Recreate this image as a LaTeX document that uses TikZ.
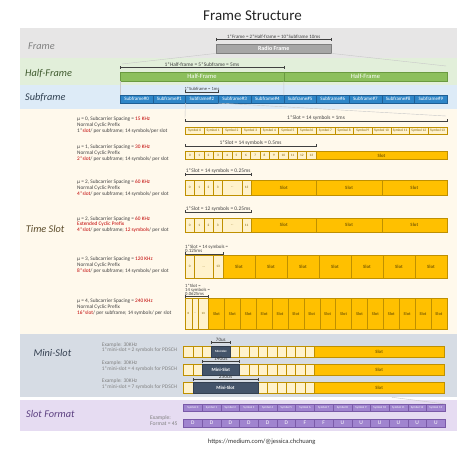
\documentclass[tikz,border=0pt]{standalone}
\usepackage{fontspec}
\setmainfont{Carlito}
\usetikzlibrary{arrows.meta,calc}
\definecolor{bgFrame}{HTML}{E7E6E6}
\definecolor{bgHalf}{HTML}{E2EFDA}
\definecolor{bgSub}{HTML}{DDEBF7}
\definecolor{bgSlot}{HTML}{FFF9EC}
\definecolor{bgMini}{HTML}{D6DCE4}
\definecolor{bgFmt}{HTML}{E6DCF2}
\definecolor{rfFill}{HTML}{A6A6A6}
\definecolor{rfLine}{HTML}{7F7F7F}
\definecolor{hfFill}{HTML}{8CBF5C}
\definecolor{hfLine}{HTML}{6A9A40}
\definecolor{sfFill}{HTML}{2E86C8}
\definecolor{sfLine}{HTML}{1F5F95}
\definecolor{symFill}{HTML}{FFF2CC}
\definecolor{symLine}{HTML}{BF9000}
\definecolor{slotFill}{HTML}{FFC000}
\definecolor{slotText}{HTML}{7F6000}
\definecolor{miniFill}{HTML}{44546A}
\definecolor{miniLine}{HTML}{333F50}
\definecolor{fmtFill}{HTML}{A084CF}
\definecolor{fmtLine}{HTML}{7A5AA8}
\definecolor{redtxt}{HTML}{C00000}
\definecolor{txt}{HTML}{404040}
\definecolor{funnelc}{HTML}{C8C8C8}
\definecolor{labFrame}{HTML}{808080}
\definecolor{labHalf}{HTML}{3F5A2E}
\definecolor{labSub}{HTML}{2F3F50}
\definecolor{labSlot}{HTML}{5A4A28}
\definecolor{labMini}{HTML}{333F50}
\definecolor{labFmt}{HTML}{5B3F80}
\newcommand\fsz[2]{\fontsize{#1}{#2}\selectfont}
\newcommand\dimbr[4]{\draw[dimline] ([yshift=#3]#1) -- ([yshift=#3]#2) node[dimtext, midway, above] {#4};}
\begin{document}
\begin{tikzpicture}[x=1pt,y=-1pt,
  bandbox/.style={draw=none, inner sep=0, anchor=north west},
  blabel/.style={anchor=west, inner sep=0, font=\fsz{10.3}{12}\itshape},
  cellbox/.style={draw, inner sep=0, anchor=north west, line width=0.4pt},
  symbox/.style={cellbox, draw=symLine, fill=symFill, text=slotText},
  slotbox/.style={cellbox, draw=symLine, fill=slotFill, text=slotText, font=\fsz{4.8}{5}\bfseries},
  minibox/.style={cellbox, draw=miniLine, fill=miniFill, text=white},
  fmtbox/.style={cellbox, draw=fmtLine, fill=fmtFill, text=white},
  desctext/.style={anchor=west, align=left, inner sep=0, font=\fsz{5.3}{5.9}, text=txt},
  minitext/.style={anchor=west, align=left, inner sep=0, font=\fsz{5.4}{5.8}, text=gray},
  dimline/.style={draw=txt, line width=0.35pt, {Bar[width=3pt]}-{Bar[width=3pt]}},
  dimtext/.style={font=\fsz{5.4}{5.6}, text=txt, inner sep=0.5pt},
  funnel/.style={draw=funnelc, line width=0.4pt}]
\useasboundingbox (0,0) rectangle (474,452);
\fill[white] (0,0) rectangle (474,452);

\node[font=\fsz{15}{18}, text=black!85] (title) at (252.5,16) {Frame Structure};

% bands
\node[bandbox, fill=bgFrame, minimum width=437pt, minimum height=30pt] (bFrame) at (20,28) {};
\node[bandbox, fill=bgHalf, minimum width=437pt, minimum height=27pt] (bHalf) at (20,58) {};
\node[bandbox, fill=bgSub, minimum width=437pt, minimum height=24pt] (bSub) at (20,85) {};
\node[bandbox, fill=bgSlot, minimum width=437pt, minimum height=225pt] (bSlot) at (20,109) {};
\node[bandbox, fill=bgMini, minimum width=437pt, minimum height=63pt] (bMini) at (20,334) {};
\node[bandbox, fill=bgFmt, minimum width=437pt, minimum height=31pt] (bFmt) at (20,400) {};

% band labels
\node[blabel, text=labFrame] (lFrame) at (28,46) {Frame};
\node[blabel, text=labHalf] (lHalf) at (25,74) {Half-Frame};
\node[blabel, text=labSub] (lSub) at (25,97.5) {Subframe};
\node[blabel, text=labSlot] (lSlot) at (25.7,228.5) {Time Slot};
\node[blabel, text=labMini] (lMini) at (33.3,352.5) {Mini-Slot};
\node[blabel, text=labFmt] (lFmt) at (26,414) {Slot Format};

% radio frame
\node[cellbox, draw=rfLine, fill=rfFill, text=white, font=\fsz{6}{6}\bfseries, minimum width=115pt, minimum height=9pt] (rf) at (216,44) {Radio Frame};
\dimbr{rf.north west}{rf.north east}{4.5pt}{\fsz{5}{5}1*Frame = 2*Half-frame = 10*Subframe 10ms}

% half frames
\node[cellbox, draw=hfLine, fill=hfFill, text=white, font=\fsz{6.5}{6.5}, minimum width=163.5pt, minimum height=9.3pt] (hf1) at (120,71.7) {Half-Frame};
\node[cellbox, draw=hfLine, fill=hfFill, text=white, font=\fsz{6.5}{6.5}, minimum width=163.5pt, minimum height=9.3pt] (hf2) at (283.5,71.7) {Half-Frame};
\dimbr{hf1.north west}{hf1.north east}{4.4pt}{1*Half-frame = 5*Subframe = 5ms}

% subframes
\foreach \i in {0,...,9}
  \node[cellbox, draw=sfLine, fill=sfFill, text=white, font=\fsz{5}{5}, minimum width=32.7pt, minimum height=7.4pt] (sf\i) at ({120+\i*32.7},95.3) {Subframe\#\i};
\dimbr{sf2.north west}{sf2.north east}{3.6pt}{\fsz{4.6}{4.6}1*Subframe = 1ms}

% funnel lines
\coordinate (fA) at (122,64);
\coordinate (fB) at (446,66);
\coordinate (fC) at (185,118);
\coordinate (fD) at (446,116);
\draw[funnel] (rf.south west) -- (fA);
\draw[funnel] (rf.south east) -- (fB);
\draw[funnel] (hf1.south west) -- (sf0.north west);
\draw[funnel] (hf1.south east) -- (sf4.north east);
\draw[funnel] (sf2.south west) -- (fC);
\draw[funnel] (sf2.south east) -- (fD);

% row 1
\node[desctext] (d1) at (77,125) {μ = 0, Subcarrier Spacing = \textcolor{redtxt}{15 KHz}\\Normal Cyclic Prefix\\1*\textcolor{redtxt}{slot}/ per subframe; 14 symbols/per slot};
\foreach \i in {0,...,13}
  \node[symbox, font=\fsz{3.5}{3.5}, minimum width=18.69pt, minimum height=7.6pt] (a\i) at ({185+\i*18.69},126.7) {Symbol \i};
\dimbr{a0.north west}{a13.north east}{6pt}{1*Slot = 14 symbols = 1ms}

% row 2
\node[desctext] (d2) at (77,153.3) {μ = 1, Subcarrier Spacing = \textcolor{redtxt}{30 KHz}\\Normal Cyclic Prefix\\\textcolor{redtxt}{2*slot}/ per subframe; 14 symbols/ per slot};
\foreach \i in {0,...,13}
  \node[symbox, font=\fsz{3.4}{3.5}, minimum width=9.34pt, minimum height=8.3pt] (b\i) at ({185+\i*9.34},151) {\i};
\node[slotbox, minimum width=131pt, minimum height=8.3pt] (bS) at (315.76,151) {Slot};
\dimbr{b0.north west}{b13.north east}{5.3pt}{1*Slot = 14 symbols = 0.5ms}

% row 3
\node[desctext] (d3) at (77,188) {μ = 2, Subcarrier Spacing = \textcolor{redtxt}{60 KHz}\\Normal Cyclic Prefix\\\textcolor{redtxt}{4*slot}/ per subframe; 14 symbols/ per slot};
\foreach \i in {0,...,3}
  \node[symbox, font=\fsz{3.4}{3.5}, minimum width=9.3pt, minimum height=15pt] (c\i) at ({185+\i*9.3},180) {\i};
\node[symbox, font=\fsz{3.4}{3.5}, minimum width=19.4pt, minimum height=15pt] (cd) at (222.2,180) {...};
\node[symbox, font=\fsz{3.4}{3.5}, minimum width=9.4pt, minimum height=15pt] (c13) at (241.6,180) {13};
\foreach \k in {0,1,2}
  \node[slotbox, minimum width=65.25pt, minimum height=15pt] (cS\k) at ({251+\k*65.25},180) {Slot};
\dimbr{c0.north west}{c13.north east}{6pt}{1*Slot = 14 symbols = 0.25ms}

% row 4
\node[desctext] (d4) at (77,224.5) {μ = 2, Subcarrier Spacing = \textcolor{redtxt}{60 KHz}\\\textcolor{redtxt}{Extended Cyclic Prefix}\\\textcolor{redtxt}{4*slot}/ per subframe; \textcolor{redtxt}{12 symbols}/ per slot};
\foreach \i in {0,...,3}
  \node[symbox, font=\fsz{3.4}{3.5}, minimum width=9.3pt, minimum height=14.6pt] (e\i) at ({185+\i*9.3},217.7) {\i};
\node[symbox, font=\fsz{3.4}{3.5}, minimum width=19.4pt, minimum height=14.6pt] (ed) at (222.2,217.7) {...};
\node[symbox, font=\fsz{3.4}{3.5}, minimum width=9.4pt, minimum height=14.6pt] (e11) at (241.6,217.7) {11};
\foreach \k in {0,1,2}
  \node[slotbox, minimum width=65.25pt, minimum height=14.6pt] (eS\k) at ({251+\k*65.25},217.7) {Slot};
\dimbr{e0.north west}{e11.north east}{6pt}{1*Slot = 12 symbols = 0.25ms}

% row 5
\node[desctext] (d5) at (77,265) {μ = 3, Subcarrier Spacing = \textcolor{redtxt}{120 KHz}\\Normal Cyclic Prefix\\\textcolor{redtxt}{8*slot}/ per subframe; 14 symbols/ per slot};
\node[symbox, font=\fsz{3.4}{3.5}, minimum width=9.3pt, minimum height=22.7pt] (p0) at (185,255.3) {0};
\node[symbox, font=\fsz{3.4}{3.5}, minimum width=19pt, minimum height=22.7pt] (pd) at (194.3,255.3) {...};
\node[symbox, font=\fsz{3.4}{3.5}, minimum width=9.4pt, minimum height=22.7pt] (p13) at (213.3,255.3) {13};
\foreach \k in {0,...,6}
  \node[slotbox, minimum width=32pt, minimum height=22.7pt] (pS\k) at ({222.7+\k*32},255.3) {Slot};
\draw[dimline] ([yshift=1.6pt]p0.north west) -- ([yshift=1.6pt]p13.north east);
\node[dimtext, anchor=south west, align=left, inner sep=0, font=\fsz{4.9}{4.4}] (pT) at ([yshift=2.4pt]p0.north west) {1*Slot = 14 symbols =\\0.125ms};

% row 6
\node[desctext] (d6) at (77,307) {μ = 4, Subcarrier Spacing = \textcolor{redtxt}{240 KHz}\\Normal Cyclic Prefix\\\textcolor{redtxt}{16*slot}/ per subframe; 14 symbols/ per slot};
\node[symbox, font=\fsz{3.2}{3.5}, minimum width=6.7pt, minimum height=30.7pt] (q0) at (185,298) {0};
\node[symbox, font=\fsz{3.2}{3.5}, minimum width=6pt, minimum height=30.7pt] (qd) at (191.7,298) {..};
\node[symbox, font=\fsz{3.2}{3.5}, minimum width=10.6pt, minimum height=30.7pt] (q13) at (197.7,298) {13};
\foreach \k in {0,...,14}
  \node[slotbox, font=\fsz{4.3}{4.3}\bfseries, minimum width=15.89pt, minimum height=30.7pt] (qS\k) at ({208.3+\k*15.89},298) {Slot};
\draw[dimline] ([yshift=1.6pt]q0.north west) -- ([yshift=1.6pt]q13.north east);
\node[dimtext, anchor=south west, align=left, inner sep=0, font=\fsz{4.7}{4.1}] (qT) at ([yshift=2.4pt]q0.north west) {1*Slot =\\14 symbols =\\0.0625ms};

% mini-slot
\node[minitext] (m1t) at (101.7,347.5) {Example: 30KHz\\1*mini-slot = 2 symbols for PDSCH};
\node[minitext] (m2t) at (101.7,365.8) {Example: 30KHz\\1*mini-slot = 4 symbols for PDSCH};
\node[minitext] (m3t) at (101.7,384.2) {Example: 30KHz\\1*mini-slot = 7 symbols for PDSCH};
\foreach \i in {0,...,13} {
  \node[symbox, minimum width=9.33pt, minimum height=11pt] (mA\i) at ({183.3+\i*9.33},345.7) {};
  \node[symbox, minimum width=9.33pt, minimum height=11pt] (mB\i) at ({183.3+\i*9.33},364) {};
  \node[symbox, minimum width=9.33pt, minimum height=11pt] (mC\i) at ({183.3+\i*9.33},381.7) {};
}
\node[slotbox, minimum width=130pt, minimum height=11pt] (mAS) at (313.92,345.7) {Slot};
\node[slotbox, minimum width=130pt, minimum height=11pt] (mBS) at (313.92,364) {Slot};
\node[slotbox, minimum width=130pt, minimum height=11pt] (mCS) at (313.92,381.7) {Slot};
\node[minibox, font=\fsz{3}{3}\bfseries, minimum width=18.66pt, minimum height=11pt] (mAm) at (mA3.north west) {Mini-Slot};
\node[minibox, font=\fsz{4.8}{5}\bfseries, minimum width=37.32pt, minimum height=11pt] (mBm) at (mB2.north west) {Mini-Slot};
\node[minibox, font=\fsz{4.8}{5}\bfseries, minimum width=65.31pt, minimum height=11pt] (mCm) at (mC1.north west) {Mini-Slot};
\dimbr{mAm.north west}{mAm.north east}{3.4pt}{\fsz{5}{5}70us}
\dimbr{mBm.north west}{mBm.north east}{3pt}{\fsz{5.5}{5.5}140us}
\dimbr{mCm.north west}{mCm.north east}{2.7pt}{\fsz{5.5}{5.5}250us}

% slot format
\node[minitext, font=\fsz{5.6}{6.2}] (fmtT) at (150,420.2) {Example:\\Format = 45};
\foreach \i in {0,...,13}
  \node[fmtbox, font=\fsz{3}{3}, minimum width=18.69pt, minimum height=7.3pt] (g\i) at ({183.3+\i*18.69},404) {Symbol \i};
\foreach \l [count=\i from 0] in {D,D,D,D,D,D,F,F,U,U,U,U,U,U}
  \node[fmtbox, font=\fsz{5.5}{5.5}, minimum width=18.69pt, minimum height=8.6pt] (h\i) at ({183.3+\i*18.69},418.7) {\l};
\coordinate (fE) at (392,397.3);
\draw[funnel] (fE) -- (g13.north east);

\node[font=\fsz{6.5}{7}, text=black!80] (url) at (261.7,441.5) {https://medium.com/@jessica.chchuang};
\end{tikzpicture}
\end{document}
